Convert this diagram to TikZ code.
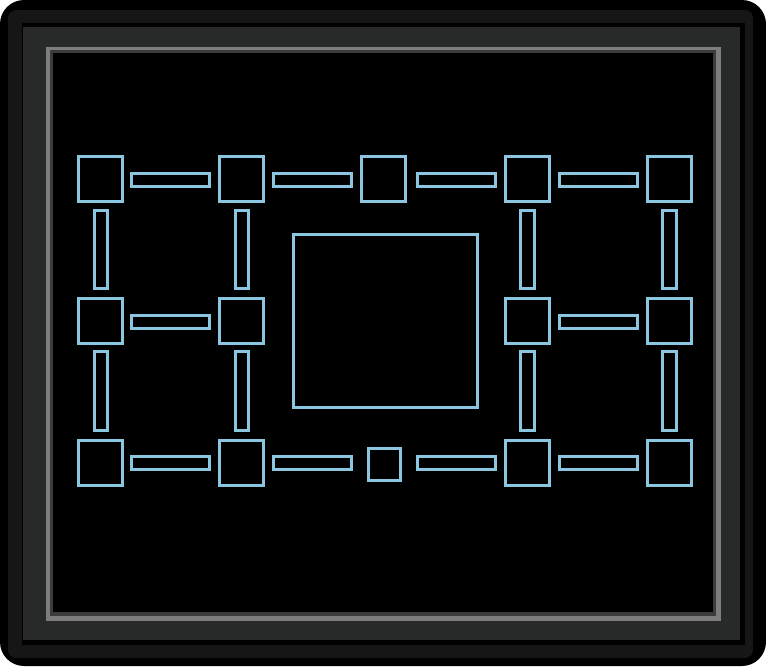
\documentclass[tikz,border=0pt]{standalone}
\definecolor{cyanline}{RGB}{138,198,224}
\definecolor{banddark}{RGB}{22,22,22}
\definecolor{bandmid}{RGB}{40,41,41}
\definecolor{bandlight}{RGB}{125,125,125}
\definecolor{bandinner}{RGB}{60,60,60}
\begin{document}
\begin{tikzpicture}[x=1pt,y=-1pt,
  blk/.style={draw=cyanline,line width=2.6pt,fill=black,inner sep=0pt,outer sep=0pt},
  sq/.style={blk,minimum width=44.5pt,minimum height=45.5pt},
  hbar/.style={blk,minimum width=78.5pt,minimum height=13.5pt},
  vbar/.style={blk,minimum width=13.5pt,minimum height=78.5pt}]
\useasboundingbox (0,0) rectangle (766,667);
% frame
\fill[white] (0,0) rectangle (766,667);
\fill[black,rounded corners=24pt] (0,0) rectangle (766,666);
\fill[banddark,rounded corners=8pt] (8,10) rectangle (753,658);
\fill[black] (22,23) rectangle (745,645);
\fill[bandmid] (23,27) rectangle (740,640);
\fill[bandlight] (46,47) rectangle (721,621);
\fill[bandinner] (50,50) rectangle (716,616);
\fill[black] (53,53) rectangle (713,612);
% squares
\node[sq] (a1) at (100.5,179) {};
\node[sq] (a2) at (241.5,179) {};
\node[sq] (a3) at (383.5,179) {};
\node[sq] (a4) at (527.5,179) {};
\node[sq] (a5) at (669.5,179) {};
\node[sq] (b1) at (100.5,321) {};
\node[sq] (b2) at (241.5,321) {};
\node[sq] (b4) at (527.5,321) {};
\node[sq] (b5) at (669.5,321) {};
\node[sq] (c1) at (100.5,463) {};
\node[sq] (c2) at (241.5,463) {};
\node[blk,minimum width=31.5pt,minimum height=32.5pt] (c3) at (384.5,464.5) {};
\node[sq] (c4) at (527.5,463) {};
\node[sq] (c5) at (669.5,463) {};
\node[blk,minimum width=184.5pt,minimum height=173.5pt] (big) at (385.5,321) {};
% horizontal bars
\node[hbar] (h1) at (170.5,180) {};
\node[hbar] (h2) at (312.5,180) {};
\node[hbar] (h3) at (456.5,180) {};
\node[hbar] (h4) at (598.5,180) {};
\node[hbar] (h5) at (170.5,322) {};
\node[hbar] (h6) at (598.5,322) {};
\node[hbar] (h7) at (170.5,463) {};
\node[hbar] (h8) at (312.5,463) {};
\node[hbar] (h9) at (456.5,463) {};
\node[hbar] (h10) at (598.5,463) {};
% vertical bars
\node[vbar] (v1) at (101,249.5) {};
\node[vbar] (v2) at (242,249.5) {};
\node[vbar] (v3) at (527.5,249.5) {};
\node[vbar] (v4) at (669.5,249.5) {};
\node[vbar] (v5) at (101,391) {};
\node[vbar] (v6) at (242,391) {};
\node[vbar] (v7) at (527.5,391) {};
\node[vbar] (v8) at (669.5,391) {};
\end{tikzpicture}
\end{document}
